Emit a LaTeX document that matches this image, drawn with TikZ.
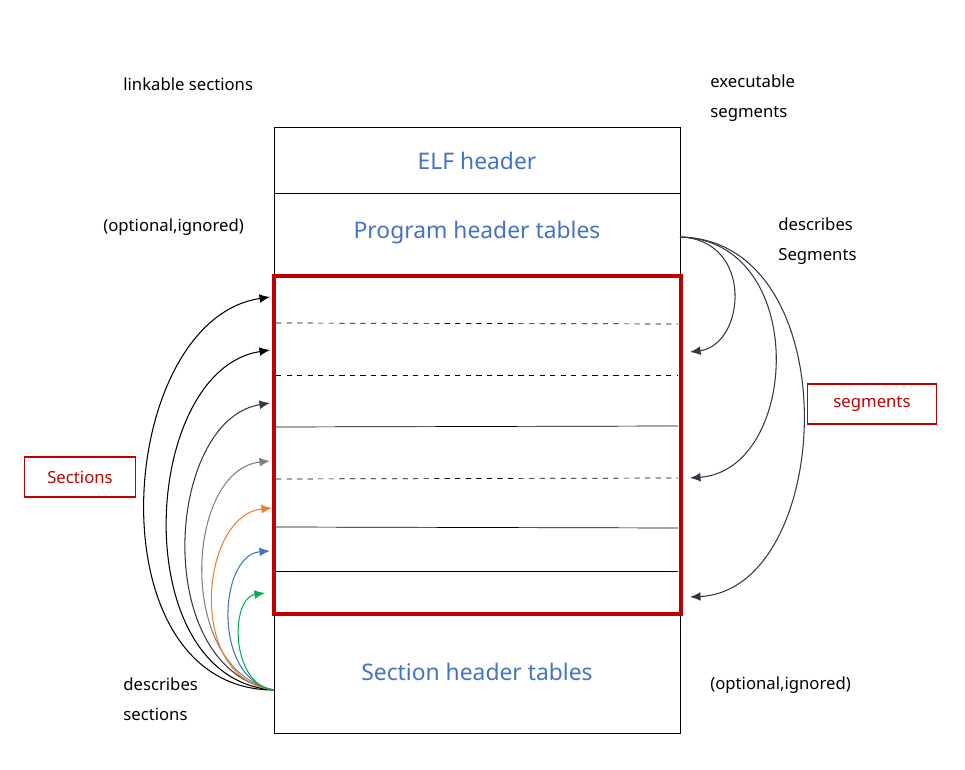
\documentclass[tikz,border=0pt]{standalone}
\usepackage{fontspec}
\setmainfont{Noto Sans}
\usetikzlibrary{arrows.meta}
\definecolor{hblue}{RGB}{68,114,196}
\definecolor{dred}{RGB}{192,0,0}
\definecolor{aorange}{RGB}{237,125,49}
\definecolor{agreen}{RGB}{0,176,80}
\definecolor{darr}{RGB}{50,56,70}
\tikzset{
  lbl/.style={font=\fontsize{9.5}{17}\selectfont, align=left, anchor=west, inner sep=0},
  hdr/.style={font=\fontsize{13}{15}\selectfont, text=hblue},
  tag/.style={draw=dred, thick, text=dred, font=\fontsize{9.5}{12}\selectfont, minimum width=#1, minimum height=0.8cm},
  arr/.style={-{Latex[length=6pt,width=5pt]}, semithick},
}
\begin{document}
\begin{tikzpicture}[x=0.02cm,y=-0.02cm]
\useasboundingbox (0,0) rectangle (965,770);
\draw[thin] (274,127) rectangle (680,733);
\draw[thin] (274,193) -- (680,193);
\node[hdr] (elf) at (477,161) {ELF header};
\node[hdr] (pht) at (477,233) {Program header tables};
\node[hdr] (sht) at (477,672) {Section header tables};
\draw[dashed] (276,323) -- (678,324);
\draw[dashed] (276,375) -- (678,375);
\draw (276,427) -- (678,426);
\draw[dashed] (276,479) -- (678,478);
\draw (276,527) -- (678,528);
\draw (276,571) -- (678,571);
\draw[dred, line width=2.2pt] (274,276) rectangle (681,614);
\node[lbl] (t1) at (123,84) {linkable sections};
\node[lbl] (t2) at (710,98) {executable\\segments};
\node[lbl] (t3) at (103,227) {(optional,ignored)};
\node[lbl] (t4) at (778,241) {describes\\Segments};
\node[lbl] (t5) at (123,699) {describes\\sections};
\node[lbl] (t6) at (710,685) {(optional,ignored)};
\node[tag=2.58cm] (seg) at (872,404) {segments};
\node[tag=2.22cm] (sec) at (80,477) {Sections};
\coordinate (ls) at (274,690);
\coordinate (rs) at (680,237);
\coordinate (e1) at (270,297);
\coordinate (e2) at (270,350);
\coordinate (e3) at (270,403);
\coordinate (e4) at (270,461);
\coordinate (e5) at (272,508);
\coordinate (e6) at (270,551);
\coordinate (e7) at (265,593);
\draw[arr,black] (ls) .. controls (90,690) and (115,320) .. (e1);
\draw[arr,black] (ls) .. controls (125,680) and (140,370) .. (e2);
\draw[arr,darr] (ls) .. controls (150,670) and (165,420) .. (e3);
\draw[arr,gray] (ls) .. controls (175,670) and (185,470) .. (e4);
\draw[arr,aorange] (ls) .. controls (185,680) and (200,515) .. (e5);
\draw[arr,hblue] (ls) .. controls (212,680) and (218,555) .. (e6);
\draw[arr,agreen] (ls) .. controls (230,685) and (230,598) .. (e7);
\coordinate (f1) at (690,352);
\coordinate (f2) at (690,478);
\coordinate (f3) at (690,597);
\draw[arr,darr] (rs) .. controls (755,240) and (745,345) .. (f1);
\draw[arr,darr] (rs) .. controls (810,240) and (800,470) .. (f2);
\draw[arr,darr] (rs) .. controls (850,240) and (835,590) .. (f3);
\end{tikzpicture}
\end{document}
